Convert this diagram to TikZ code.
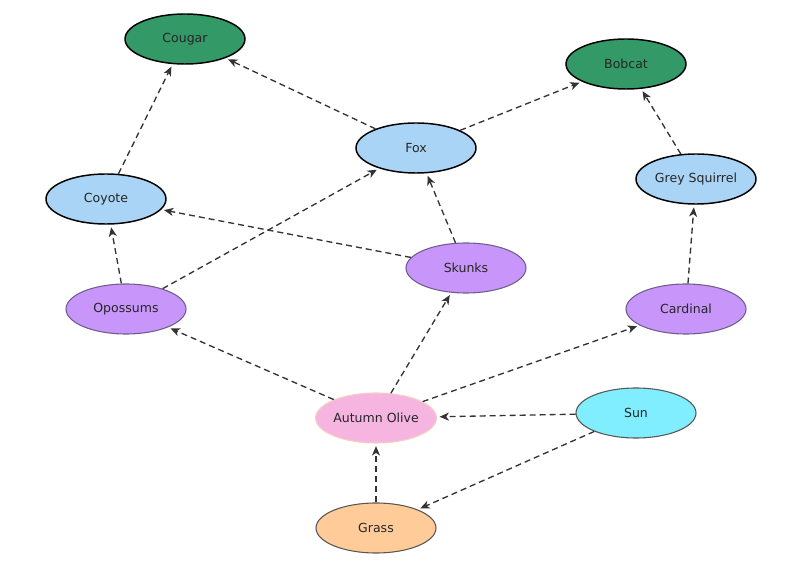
\documentclass[tikz,border=0pt]{standalone}
\usepackage{fontspec}
\setmainfont{DejaVu Sans}
\usetikzlibrary{arrows.meta,shapes.geometric}
\definecolor{cgreen}{HTML}{339966}
\definecolor{cblue}{HTML}{A9D4F5}
\definecolor{cpurple}{HTML}{C896FA}
\definecolor{cpurpleb}{HTML}{6E5C8C}
\definecolor{cpink}{HTML}{F5B5E0}
\definecolor{cpinkb}{HTML}{F5D0C0}
\definecolor{ccyan}{HTML}{80EEFF}
\definecolor{cpeach}{HTML}{FFCC99}
\definecolor{cgrayb}{HTML}{555555}
\definecolor{cedge}{HTML}{333333}
\begin{document}
\begin{tikzpicture}[x=0.75pt,y=-0.75pt,
  base/.style={ellipse,minimum width=90pt,minimum height=37.5pt,inner sep=0pt,text=black!85,font=\fontsize{9.4}{11}\selectfont},
  greennode/.style={base,fill=cgreen,draw=black,line width=1.1pt},
  bluenode/.style={base,fill=cblue,draw=black,line width=1.1pt},
  purplenode/.style={base,fill=cpurple,draw=cpurpleb,line width=0.8pt},
  pinknode/.style={base,fill=cpink,draw=cpinkb,line width=0.8pt},
  cyannode/.style={base,fill=ccyan,draw=cgrayb,line width=0.8pt},
  peachnode/.style={base,fill=cpeach,draw=cgrayb,line width=0.8pt},
  link/.style={draw=cedge,line width=1pt,dash pattern=on 4.5pt off 3pt,-{Stealth[inset=2pt,length=7pt,width=6pt]},shorten >=2pt}]
\useasboundingbox (0,0) rectangle (800,566);
\node[greennode] (cougar) at (185,39) {Cougar};
\node[greennode] (bobcat) at (626,64) {Bobcat};
\node[bluenode] (fox) at (416,148) {Fox};
\node[bluenode] (squirrel) at (696,179) {Grey Squirrel};
\node[bluenode] (coyote) at (106,199) {Coyote};
\node[purplenode] (skunks) at (466,268) {Skunks};
\node[purplenode] (opossums) at (126,309) {Opossums};
\node[purplenode] (cardinal) at (686,309) {Cardinal};
\node[pinknode] (olive) at (376,418) {Autumn Olive};
\node[cyannode] (sun) at (636,413) {Sun};
\node[peachnode] (grass) at (376,528) {Grass};
\draw[link] (coyote) -- (cougar);
\draw[link] (fox) -- (cougar);
\draw[link] (fox) -- (bobcat);
\draw[link] (squirrel) -- (bobcat);
\draw[link] (skunks) -- (coyote);
\draw[link] (opossums) -- (fox);
\draw[link] (skunks) -- (fox);
\draw[link] (opossums) -- (coyote);
\draw[link] (cardinal) -- (squirrel);
\draw[link] (olive) -- (opossums);
\draw[link] (olive) -- (skunks);
\draw[link] (olive) -- (cardinal);
\draw[link] (sun) -- (olive);
\draw[link] (sun) -- (grass);
\draw[link] (grass) -- (olive);
\end{tikzpicture}
\end{document}
